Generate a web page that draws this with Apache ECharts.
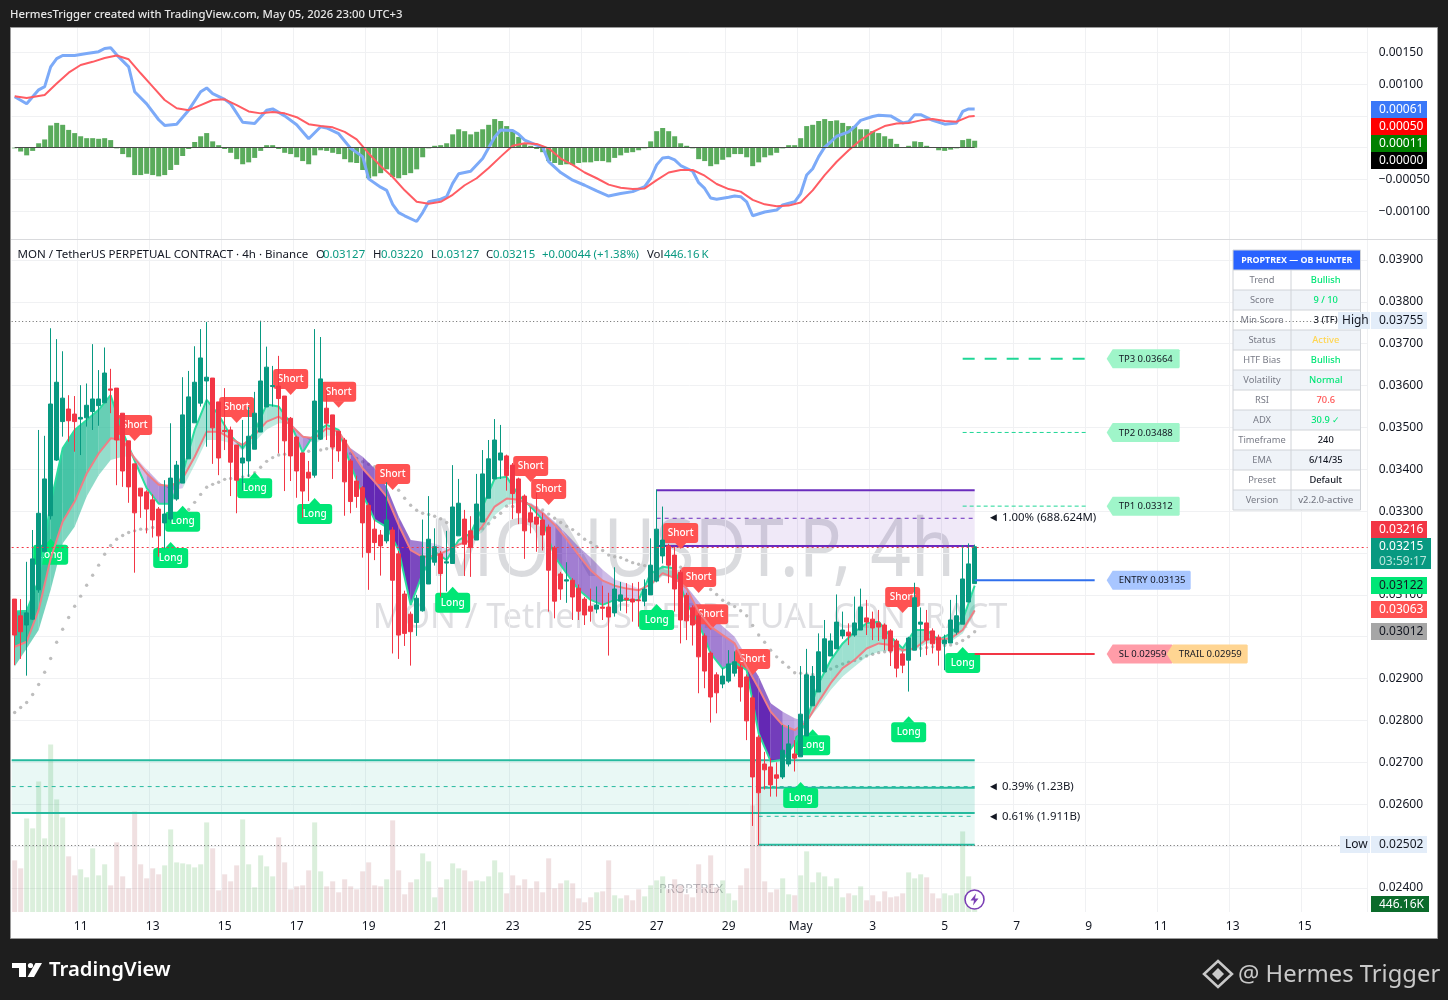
<!DOCTYPE html>
<html><head><meta charset="utf-8">
<style>html,body{margin:0;padding:0;background:#1e1e1e}#c{width:1448px;height:1000px}</style>
<script src="https://cdn.jsdelivr.net/npm/echarts@6/dist/echarts.min.js"></script>
</head><body><div id="c"></div>
<script>
// prices are in units of 0.00001 USDT
const open=[3090,3050,3028,3042,3112,3203,3289,3422,3514,3544,3532,3520,3523,3538,3552,3559,3592,3594,3534,3468,3413,3355,3346,3327,3305,3272,3281,3329,3367,3425,3511,3558,3611,3618,3561,3493,3494,3458,3415,3420,3448,3489,3549,3598,3599,3575,3522,3477,3439,3393,3386,3472,3546,3530,3491,3470,3420,3372,3356,3314,3257,3243,3229,3255,3198,3102,3054,3034,3062,3126,3178,3198,3176,3175,3241,3281,3253,3231,3274,3331,3377,3422,3432,3410,3377,3336,3296,3286,3279,3262,3212,3150,3133,3135,3116,3090,3073,3066,3071,3071,3057,3085,3092,3090,3088,3085,3100,3133,3193,3217,3195,3154,3099,3069,3050,3002,2961,2909,2887,2894,2913,2927,2904,2854,2760,2696,2689,2670,2665,2696,2720,2713,2763,2835,2868,2916,2954,2971,3002,3011,3004,3016,3045,3042,3033,3028,3014,2990,2959,2944,2968,3030,3033,3014,2999,2983,2985,3011,3030,3083,3127];
const close=[3004,3012,3057,3186,3295,3377,3556,3608,3570,3516,3514,3524,3553,3568,3568,3630,3589,3470,3396,3358,3296,3336,3305,3279,3241,3293,3379,3410,3530,3573,3608,3666,3620,3499,3427,3490,3417,3374,3427,3479,3534,3611,3644,3600,3569,3468,3432,3396,3348,3379,3563,3616,3510,3453,3444,3370,3323,3335,3272,3201,3225,3217,3279,3135,3004,3008,3012,3092,3193,3233,3215,3151,3179,3310,3319,3221,3213,3317,3389,3425,3470,3439,3385,3342,3296,3253,3274,3269,3243,3159,3085,3114,3136,3095,3061,3052,3061,3076,3068,3047,3114,3100,3088,3083,3086,3114,3171,3257,3231,3171,3114,3040,3038,3028,2952,2918,2856,2866,2906,2935,2940,2880,2799,2665,2627,2682,2646,2662,2729,2744,2710,2815,2909,2906,2964,2995,2990,3035,3016,3002,3033,3071,3035,3021,3023,2995,2966,2925,2932,2997,3093,3035,2992,2983,2968,2992,3040,3050,3138,3174,3215];
const low=[2932,2947,2907,3040,3105,3203,3280,3420,3478,3466,3442,3434,3502,3494,3504,3559,3534,3362,3358,3320,3153,3284,3247,3237,3191,3211,3275,3325,3367,3425,3511,3550,3454,3413,3386,3446,3336,3295,3350,3382,3448,3489,3549,3550,3438,3348,3372,3332,3284,3324,3380,3470,3470,3377,3418,3289,3295,3308,3189,3112,3183,3146,3223,2960,2947,2978,2931,3002,3060,3126,3170,3096,3108,3175,3241,3145,3143,3231,3274,3331,3377,3377,3349,3281,3269,3186,3247,3203,3206,3060,3044,3088,3081,3040,3040,3028,3036,3056,3040,2955,3048,3062,3056,3036,3024,3073,3100,3130,3175,3128,3060,2984,2992,2979,2865,2877,2795,2817,2877,2890,2905,2845,2753,2548,2502,2635,2618,2618,2660,2690,2678,2713,2763,2835,2868,2916,2954,2971,2995,2980,3000,3016,3004,2992,2990,2968,2930,2903,2913,2869,2968,2952,2956,2960,2931,2920,2985,3005,3030,3083,3127];
const high=[3090,3090,3179,3255,3494,3480,3737,3711,3682,3577,3575,3601,3605,3699,3637,3691,3640,3594,3534,3468,3413,3355,3350,3340,3310,3374,3510,3420,3620,3635,3694,3735,3752,3618,3561,3594,3502,3458,3518,3549,3585,3755,3693,3647,3671,3575,3525,3480,3440,3420,3735,3716,3590,3530,3491,3475,3425,3385,3360,3320,3280,3255,3369,3262,3205,3110,3060,3100,3280,3336,3259,3205,3253,3410,3377,3303,3288,3389,3446,3470,3520,3506,3435,3415,3380,3340,3310,3344,3295,3268,3217,3155,3178,3140,3125,3095,3115,3120,3122,3105,3166,3131,3128,3128,3131,3137,3235,3352,3311,3222,3215,3160,3105,3075,3055,3008,2965,2915,2925,2968,2965,2935,2910,2860,2765,2725,2710,2700,2789,2789,2753,2930,2971,2930,3008,3040,3008,3101,3060,3032,3096,3115,3088,3060,3064,3032,3018,2995,2965,3000,3129,3070,3064,3020,3005,3005,3088,3100,3219,3223,3220];
const volumeK=[2880,2435,5220,4667,7286,4109,9347,6282,5279,3105,2043,2381,1935,3551,2043,2660,1485,3884,1989,1319,5612,2660,1877,2435,2102,2601,4608,2768,2714,2660,2489,2660,5000,3551,1206,2102,1710,2601,5166,2660,1377,3159,2547,1989,4163,2768,1265,1431,1485,2322,5000,2268,1431,1710,1098,1823,1431,1265,2268,2768,1485,1431,1823,5112,2322,986,1656,1823,3272,2826,819,1377,1823,2714,2435,2322,1710,1764,1710,1989,2880,2210,1040,2043,1485,1823,1319,1710,1098,2993,1319,1598,1764,1598,761,540,819,1098,1152,2880,932,761,932,653,1265,873,1485,1764,1989,1265,1823,1485,986,819,2660,1377,3159,1377,1764,1040,653,1485,2435,5949,6597,1710,1098,1265,1877,986,932,2043,3384,1656,2210,1989,1431,1877,819,1040,932,1431,653,932,594,1152,819,873,1040,2210,1877,2102,1935,1040,761,1040,932,1040,4496,1989,446];
const emaDots=[2819,2831,2843,2862,2886,2915,2948,2987,3018,3046,3073,3097,3123,3147,3171,3197,3218,3233,3242,3249,3253,3257,3257,3261,3267,3275,3281,3288,3296,3304,3321,3340,3357,3364,3369,3376,3378,3380,3382,3385,3392,3405,3419,3428,3434,3436,3438,3440,3441,3443,3444,3446,3449,3450,3450,3446,3438,3426,3418,3412,3406,3396,3380,3362,3350,3331,3314,3302,3295,3292,3288,3282,3273,3264,3258,3252,3250,3252,3258,3270,3285,3295,3312,3311,3310,3310,3310,3308,3303,3293,3283,3273,3264,3256,3245,3233,3225,3215,3206,3195,3191,3189,3183,3177,3173,3170,3168,3167,3166,3168,3167,3166,3158,3147,3135,3124,3113,3101,3087,3080,3072,3062,3050,3027,3004,2987,2968,2952,2939,2927,2914,2913,2911,2910,2912,2917,2923,2929,2935,2939,2943,2948,2954,2958,2962,2964,2964,2967,2968,2970,2971,2972,2974,2976,2978,2979,2980,2984,2991,3000,3012];
// ribbon readings at every second bar
const emaFast=[3060,3062,3135,3320,3450,3494,3518,3542,3577,3490,3420,3355,3318,3318,3390,3494,3566,3530,3480,3450,3490,3555,3550,3510,3440,3486,3506,3494,3410,3340,3279,3262,3207,3076,3151,3203,3183,3231,3247,3311,3378,3382,3338,3311,3279,3191,3151,3112,3088,3076,3088,3088,3088,3151,3167,3163,3080,3032,2960,2924,2940,2920,2769,2702,2706,2745,2801,2889,2944,2984,3012,3032,3036,3000,2972,3016,3016,2992,3008,3040,3122];
const emaSlow=[2976,2988,3064,3187,3275,3323,3390,3438,3474,3470,3426,3390,3363,3360,3378,3430,3490,3490,3474,3458,3482,3514,3526,3506,3478,3474,3498,3490,3445,3402,3370,3335,3267,3207,3191,3193,3205,3220,3230,3265,3311,3330,3327,3315,3295,3267,3233,3195,3159,3134,3122,3115,3111,3125,3152,3140,3115,3060,3024,3004,2984,2928,2877,2821,2789,2777,2797,2845,2889,2925,2945,2972,2984,2980,2968,2972,2994,2994,2996,3016,3063];
const emaEdge=[2929,2972,3016,3112,3223,3263,3335,3386,3422,3430,3431,3400,3370,3350,3355,3410,3470,3470,3462,3445,3465,3495,3510,3510,3482,3460,3480,3480,3450,3430,3402,3358,3287,3231,3227,3223,3210,3222,3232,3250,3290,3315,3320,3320,3300,3275,3245,3215,3189,3160,3137,3127,3115,3120,3145,3145,3120,3084,3050,3025,3000,2952,2905,2841,2821,2805,2797,2833,2873,2905,2929,2952,2964,2968,2964,2968,2984,2984,2988,3008,3056];
const ribbonAlpha=[.9,.9,.9,.9,.85,.8,.75,.7,.55,.3,.3,.5,.55,.35,.4,.42,.42,.3,.3,.3,.4,.42,.4,.4,.5,.35,.3,.5,.7,1,1,1,1,.85,.3,.25,.25,.3,.35,.4,.4,.4,.35,.45,.5,.6,.6,.6,.55,.45,.3,.25,.25,.35,.35,.4,.55,.6,.6,.55,.5,.95,1,.9,.6,.5,.45,.45,.45,.45,.45,.45,.45,.45,.45,.45,.45,.45,.45,.45,.45];
const emaBars=emaFast.map((_,k)=>k*2);

// MACD panel, units of 0.00001
const macdHist=[-1,-6,-12,-5,7,13,35,39,36,28,23,18,15,15,14,15,12,-1,-10,-15,-43,-43,-41,-43,-45,-43,-35,-27,-13,-2,9,18,23,10,4,-2,-8,-18,-26,-23,-16,-5,4,4,-2,-8,-10,-15,-21,-26,-12,-4,-5,-8,-10,-18,-23,-24,-35,-48,-45,-40,-34,-46,-48,-43,-40,-34,-15,-1,3,4,7,21,29,26,21,25,29,36,45,42,34,26,17,7,3,-2,-7,-21,-24,-27,-26,-27,-24,-23,-23,-21,-21,-23,-16,-12,-8,-7,-4,-1,10,26,31,26,18,7,3,-1,-18,-21,-29,-26,-19,-15,-10,-10,-15,-29,-23,-15,-12,-8,-1,4,4,15,34,36,42,45,42,43,39,34,34,29,29,26,23,18,14,6,1,3,10,9,3,1,-4,-5,-3,-1,12,14,11];
const macdBars=[0,2,4,5,6,7,8,10,12,14,15,16,17,19,20,22,24,25,27,29,31,32,33,35,36,38,40,42,43,45,47,49,51,52,54,56,58,59,61,62,63,64,65,67,68,69,71,72,73,74,76,78,80,81,83,84,85,87,88,89,91,93,95,97,99,101,103,105,106,107,108,109,110,111,113,114,115,116,117,119,120,121,122,123,125,127,128,130,131,132,133,134,135,136,137,139,140,141,143,144,146,148,149,150,151,153,155,157,158,159,160];
const macdLine=[80,69,91,96,127,140,145,145,148,151,156,157,146,127,88,69,44,35,37,59,88,94,85,76,69,40,38,59,61,50,36,14,33,31,22,-1,-14,-49,-62,-67,-89,-102,-107,-116,-102,-85,-81,-77,-56,-41,-37,-17,17,28,27,21,12,4,1,-22,-39,-51,-59,-68,-76,-72,-69,-61,-48,-27,-16,-15,-19,-28,-37,-55,-64,-79,-81,-78,-76,-77,-85,-107,-101,-98,-90,-85,-72,-43,-33,-14,1,9,18,25,33,43,49,51,50,39,41,52,52,43,37,39,57,61,61];
const signalBars=[0,2,5,7,9,11,13,15,17,19,21,23,25,27,29,31,33,35,37,39,41,43,45,47,49,51,53,55,57,59,61,63,65,67,69,71,73,75,77,79,81,83,85,87,89,91,93,95,97,99,101,103,105,107,109,111,113,115,117,119,121,123,125,127,129,131,133,135,137,139,141,143,145,147,149,151,153,155,157,159,160];
const signalLine=[81,78,83,101,118,130,135,141,145,139,117,96,75,62,59,67,75,76,67,57,54,56,54,48,37,34,32,25,13,-9,-29,-46,-67,-85,-88,-85,-74,-59,-48,-32,-14,3,7,6,-1,-17,-27,-39,-48,-58,-63,-65,-64,-51,-39,-35,-35,-44,-57,-65,-69,-82,-89,-92,-91,-86,-67,-43,-22,-4,12,25,34,38,39,43,45,42,41,49,50];

// axes
const tickBars=[11,23,35,47,59,71,83,95,107,119,131,143,155,167,179,191,203,215];
const tickNames=['11','13','15','17','19','21','23','25','27','29','May','3','5','7','9','11','13','15'];
const priceTicks=[2400,2500,2600,2700,2800,2900,3000,3100,3200,3300,3400,3500,3600,3700,3800,3900];
const macdTicks=[150,100,50,0,-50,-100];

// signal tags
const shortBars=[20,37,46,54,63,86,89,111,114,116,123,148];
const shortPrices=[3506,3549,3616,3585,3389,3408,3353,3248,3143,3054,2947,3095];
const longBars=[6,28,26,40,50,73,107,133,131,149,158];
const longPrices=[3196,3275,3188,3355,3293,3081,3040,2741,2615,2772,2937];

// zones: from bar, to bar, top, bottom, mid
const zoneFrom=[-1,124,107], zoneTo=[160,160,160];
const zoneTop=[2705,2639,3350], zoneBottom=[2579,2503,3217], zoneMid=[2642,2571,3283];
const zoneColors=['#26ba9f','#26ba9f','#6a2cbd'];
const zoneFills=['rgba(38,186,159,0.10)','rgba(38,186,159,0.10)','rgba(106,44,189,0.10)'];

// trade levels
const levelNames=['TP3 0.03664','TP2 0.03488','TP1 0.03312','ENTRY 0.03135','SL 0.02959'];
const levelPrices=[3664,3488,3312,3135,2959];
const levelFrom=[158,158,158,160,160], levelTo=[179,179,179,180,180];
const levelColors=['#1fd796','#1fd796','#1fd796','#2f6fed','#f23645'];
const levelFills=['#9ff5c9','#9ff5c9','#9ff5c9','#a8c6ff','#ff9ca8'];
const levelWidths=[67,67,67,78,60];

const noteTexts=['\u25C4 1.00% (688.624M)','\u25C4 0.39% (1.23B)','\u25C4 0.61% (1.911B)'];
const notePrices=[3286,2642,2571];
const noteBars=[163,163,163];

const refPrices=[3755,3215,2502];
const refColors=['#666','#f23645','#666'];

const tableRows=[['Trend','Bullish','#00e676'],['Score','9 / 10','#00e676'],['Min Score','3 (TF)','#131722'],['Status','Active','#ffd54f'],['HTF Bias','Bullish','#00e676'],['Volatility','Normal','#00e676'],['RSI','70.6','#ff5252'],['ADX','30.9 \u2713','#00e676'],['Timeframe','240','#131722'],['EMA','6/14/35','#131722'],['Preset','Default','#131722'],['Version','v2.2.0-active','#787b86']];

const FONT='"Noto Sans",sans-serif';
const U=1e-5, p=v=>+(v*U).toFixed(5);
const N=226;
const cats=Array.from({length:N},(_,i)=>{const k=tickBars.indexOf(i);return k>=0?tickNames[k]:''+'\u200b'+i;});
const isTick=i=>tickBars.indexOf(i)>=0;
const GL='#f0f1f3';

function ribbon(params,api){
  const k=params.dataIndex;
  if(k>=emaBars.length-1)return;
  const P=(i,v)=>api.coord([i,p(v)]);
  const a=emaBars[k],b=emaBars[k+1];
  const up=emaFast[k]+emaFast[k+1]>=emaSlow[k]+emaSlow[k+1];
  const s=ribbonAlpha[k];
  const c=up?'38,186,150':'100,40,180';
  const poly=(v0,w0,v1,w1,al)=>({type:'polygon',shape:{points:[P(a,v0),P(b,w0),P(b,w1),P(a,v1)]},style:{fill:'rgba('+c+','+al+')'}});
  return {type:'group',children:[
    poly(emaFast[k],emaFast[k+1],emaSlow[k],emaSlow[k+1],s),
    poly(emaSlow[k],emaSlow[k+1],emaEdge[k],emaEdge[k+1],s*0.7)
  ]};
}
function zone(params,api){
  const k=params.dataIndex, cs=params.coordSys;
  const xA=zoneFrom[k]<0?cs.x:api.coord([zoneFrom[k],0])[0];
  const xB=api.coord([zoneTo[k],0])[0];
  const y=v=>api.coord([0,p(v)])[1];
  const c=zoneColors[k];
  return {type:'group',children:[
    {type:'rect',shape:{x:xA,y:y(zoneTop[k]),width:xB-xA,height:y(zoneBottom[k])-y(zoneTop[k])},style:{fill:zoneFills[k]}},
    {type:'line',shape:{x1:xA,x2:xB,y1:y(zoneTop[k]),y2:y(zoneTop[k])},style:{stroke:c,lineWidth:2}},
    {type:'line',shape:{x1:xA,x2:xB,y1:y(zoneBottom[k]),y2:y(zoneBottom[k])},style:{stroke:c,lineWidth:2}},
    {type:'line',shape:{x1:xA,x2:xB,y1:y(zoneMid[k]),y2:y(zoneMid[k])},style:{stroke:c,lineWidth:1,lineDash:[4,4]}}
  ]};
}
function tag(isLong){return function(params,api){
  const pt=api.coord([api.value(0),api.value(1)]);
  const W=35,H=20,x=pt[0],y=pt[1];
  const fill=isLong?'#00e676':'#ff5252';
  const tri=isLong?[[x-6,y-H/2+.5],[x+6,y-H/2+.5],[x,y-H/2-6]]:[[x-6,y+H/2-.5],[x+6,y+H/2-.5],[x,y+H/2+6]];
  return {type:'group',children:[
    {type:'rect',shape:{x:x-W/2,y:y-H/2,width:W,height:H,r:3},style:{fill}},
    {type:'polygon',shape:{points:tri},style:{fill}},
    {type:'text',style:{text:isLong?'Long':'Short',x,y,align:'center',verticalAlign:'middle',fill:'#fff',font:'500 10px '+FONT}}
  ]};
};}
function level(params,api){
  const k=params.dataIndex;
  const y=api.coord([0,p(levelPrices[k])])[1];
  const xA=api.coord([levelFrom[k],0])[0],xB=api.coord([levelTo[k],0])[0];
  const dash=k===0?[12,10]:(k<3?[4,3]:null);
  const lw=(k===1||k===2)?1:2;
  const tip=api.coord([182,0])[0];
  const w=levelWidths[k];
  const children=[
    {type:'line',shape:{x1:xA,x2:xB,y1:y,y2:y},style:{stroke:levelColors[k],lineWidth:lw,lineDash:dash}},
    {type:'polygon',shape:{points:[[tip,y],[tip+6,y-9.5],[tip+6+w-1,y-9.5],[tip+6+w,y-8.5],[tip+6+w,y+8.5],[tip+6+w-1,y+9.5],[tip+6,y+9.5]]},style:{fill:levelFills[k]}},
    {type:'text',style:{text:levelNames[k],x:tip+12,y:y+.5,align:'left',verticalAlign:'middle',fill:'#131722',font:'9.5px '+FONT}}
  ];
  if(k===4){
    const t2=tip+60;
    children.push({type:'polygon',shape:{points:[[t2,y],[t2+6,y-9.5],[t2+6+74,y-9.5],[t2+6+75,y-8.5],[t2+6+75,y+8.5],[t2+6+74,y+9.5],[t2+6,y+9.5]]},style:{fill:'#ffd592'}});
    children.push({type:'text',style:{text:'TRAIL 0.02959',x:t2+12,y:y+.5,align:'left',verticalAlign:'middle',fill:'#131722',font:'9.5px '+FONT}});
  }
  return {type:'group',children};
}

// graphic helpers
const G=[];
const T=(x,y,text,fill,size,align,weight,z)=>G.push({type:'text',z:z||50,silent:true,x,y,style:{text,fill,font:(weight||'normal')+' '+size+'px '+FONT,align:align||'left',verticalAlign:'middle'}});
const R=(x,y,w,h,fill,z,stroke)=>G.push({type:'rect',z:z||49,silent:true,shape:{x,y,width:w,height:h},style:{fill,stroke:stroke||null,lineWidth:stroke?1:0}});
// frame
R(10.5,27.5,1427,911,'#ffffff',-10,'#9a9a9a');
G.push({type:'line',z:-5,silent:true,shape:{x1:11,x2:1437,y1:239.5,y2:239.5},style:{stroke:'#d9dadd',lineWidth:1}});
T(10,14.5,'HermesTrigger created with TradingView.com, May 05, 2026 23:00 UTC+3','#e8e8e8',11.3,'left','500');
// watermark
G.push({type:'text',z:-2,silent:true,x:692,y:553,originX:0,originY:0,scaleX:0.89,style:{text:'MONUSDT.P, 4h',fill:'rgba(120,123,134,0.27)',font:'80px '+FONT,align:'center',verticalAlign:'middle'}});
T(690,618,'MON / TetherUS PERPETUAL CONTRACT','rgba(120,123,134,0.24)',34,'center','normal',-2);
T(691,889,'PROPTREX','rgba(120,123,134,0.5)',13,'center','normal',-2);
// legend
const K='#131722',V='#089981';
T(17.5,255,'MON / TetherUS PERPETUAL CONTRACT \u00b7 4h \u00b7 Binance',K,11.55);
[[316,'O',K],[323,'0.03127',V],[373,'H',K],[381,'0.03220',V],[431,'L',K],[437,'0.03127',V],[486,'C',K],[493,'0.03215',V],[542,'+0.00044 (+1.38%)',V],[647,'Vol',K],[664,'446.16\u202fK',V]].forEach(a=>T(a[0],255,a[1],a[2],11.4));
// table
const TX=1233,TW=127.5,TC=1291;
R(TX,250,TW,20,'#2962ff',6);
T(TX+TW/2,260,'PROPTREX \u2014 OB HUNTER','#fff',8.9,'center','bold',7);
tableRows.forEach((r,k)=>{
  const y=270+k*20;
  R(TX,y,TW,20,k%2?'#eff3f8':'#ffffff',1);
  T((TX+TC)/2,y+10,r[0],'#787b86',9.3,'center','normal',7);
  T((TC+TX+TW)/2,y+10,r[1],r[2],9.3,'center','500',7);
});
G.push({type:'rect',z:6,silent:true,shape:{x:TX,y:250,width:TW,height:260},style:{fill:'none',stroke:'#d0d3d8',lineWidth:1}});
for(let k=1;k<13;k++)G.push({type:'line',z:6,silent:true,shape:{x1:TX,x2:TX+TW,y1:250+k*20,y2:250+k*20},style:{stroke:'#d0d3d8',lineWidth:1}});
G.push({type:'line',z:6,silent:true,shape:{x1:TC,x2:TC,y1:270,y2:510},style:{stroke:'#d0d3d8',lineWidth:1}});
// price tags
const tagBox=(y0,h,w,fill,lines,col)=>{R(1371,y0,w,h,fill,60);lines.forEach((t,k)=>T(1379,y0+9+k*15,t[0],t[1]||col,12,'left','normal',61));};
tagBox(101,17,56,'#3a78f8',[['0.00061']],'#fff');
tagBox(118,17,56,'#ff0000',[['0.00050']],'#fff');
tagBox(135,17,56,'#008000',[['0.00011']],'#fff');
tagBox(152,17,56,'#000000',[['0.00000']],'#fff');
tagBox(312,17,56,'#e3edf9',[['0.03755']],'#131722');
R(1338,312,32,17,'#e3edf9',60);T(1342,321,'High','#131722',12,'left','normal',61);
tagBox(521,17,56,'#f23645',[['0.03216']],'#fff');
tagBox(538,31,60,'#089981',[['0.03215'],['03:59:17','#b8e6dc']],'#fff');
tagBox(577,17,56,'#00e676',[['0.03122']],'#131722');
tagBox(601,17,56,'#ff5252',[['0.03063']],'#fff');
tagBox(623,17,56,'#a6a6a6',[['0.03012']],'#131722');
tagBox(836,17,56,'#e3edf9',[['0.02502']],'#131722');
R(1340,836,30,17,'#e3edf9',60);T(1345,845,'Low','#131722',12,'left','normal',61);
tagBox(896,16,58,'#0b6b2b',[['446.16K']],'#fff');
// lightning badge
G.push({type:'circle',z:40,silent:true,shape:{cx:974.5,cy:899.5,r:9.5},style:{fill:'#fff',stroke:'#7b3fb5',lineWidth:1.6}});
G.push({type:'polygon',z:41,silent:true,shape:{points:[[976,893.5],[970.5,900.5],[974,900.5],[973,905.5],[978.5,898.5],[975,898.5]]},style:{fill:'#7b3fb5'}});
// footer
G.push({type:'rect',z:5,silent:true,shape:{x:12,y:963,width:14,height:5},style:{fill:'#fff'}});
G.push({type:'rect',z:5,silent:true,shape:{x:19,y:963,width:7,height:14},style:{fill:'#fff'}});
G.push({type:'circle',z:5,silent:true,shape:{cx:30.5,cy:965.5,r:2.6},style:{fill:'#fff'}});
G.push({type:'polygon',z:5,silent:true,shape:{points:[[35.5,963],[42,963],[34,977],[27.5,977]]},style:{fill:'#fff'}});
T(49,970.5,'TradingView','#ffffff',20.3,'left','600',5);
G.push({type:'polygon',z:5,silent:true,shape:{points:[[1218,961],[1232,974],[1218,987],[1204,974]]},style:{fill:'none',stroke:'#c9c9c9',lineWidth:2.5}});
G.push({type:'polygon',z:5,silent:true,shape:{points:[[1218,968],[1224,974],[1218,980],[1212,974]]},style:{fill:'#c9c9c9'}});
T(1238,975.5,'@ Hermes Trigger','#c9c9c9',23.8,'left','normal',5);

const splitLine={show:true,lineStyle:{color:GL,width:1},interval:i=>isTick(i)};
const option={
  animation:false,
  backgroundColor:'#1e1e1e',
  textStyle:{fontFamily:FONT},
  tooltip:{show:false},
  axisPointer:{show:false},
  graphic:{elements:G},
  grid:[
    {left:11.67,width:1356,top:28,height:211,containLabel:false},
    {left:11.67,width:1356,top:240,height:672,containLabel:false}
  ],
  xAxis:[
    {type:'category',gridIndex:0,data:cats,boundaryGap:true,axisLine:{show:false},axisTick:{show:false},axisLabel:{show:false},splitLine},
    {type:'category',gridIndex:1,data:cats,boundaryGap:true,axisLine:{show:false},axisTick:{show:false},splitLine,
      axisLabel:{show:true,interval:i=>isTick(i),margin:8.5,color:'#131722',fontSize:12,fontFamily:FONT,formatter:v=>v,hideOverlap:false}}
  ],
  yAxis:[
    {type:'value',gridIndex:0,position:'right',min:-0.001435,max:0.001882,axisLine:{show:false},
      axisTick:{show:false,customValues:macdTicks.map(p)},
      axisLabel:{customValues:macdTicks.map(p),margin:11,padding:[2,0,0,0],color:'#131722',fontSize:12,fontFamily:FONT,formatter:v=>(v<0?'\u2212':'')+Math.abs(v).toFixed(5)},
      splitLine:{show:true,lineStyle:{color:GL}}},
    {type:'value',gridIndex:1,position:'right',min:0.023424,max:0.039478,axisLine:{show:false},
      axisTick:{show:false,customValues:priceTicks.map(p)},
      axisLabel:{customValues:priceTicks.map(p),margin:11,padding:[2,0,0,0],color:'#131722',fontSize:12,fontFamily:FONT,formatter:v=>v.toFixed(5)},
      splitLine:{show:true,lineStyle:{color:GL}}},
    {type:'value',gridIndex:1,position:'left',min:0,max:37498,show:false,splitLine:{show:false}}
  ],
  series:[
    {type:'bar',name:'Histogram',xAxisIndex:0,yAxisIndex:0,barWidth:5,z:2,data:macdHist.map(p),itemStyle:{color:'#5aab5c'},
      markLine:{silent:true,symbol:'none',label:{show:false},lineStyle:{color:'#4a4a4a',width:1,type:'solid'},data:[[{coord:[0,0]},{coord:[160,0]}]]}},
    {type:'line',name:'MACD',xAxisIndex:0,yAxisIndex:0,z:3,showSymbol:false,data:macdBars.map((b,k)=>[b,p(macdLine[k])]),lineStyle:{color:'#7caaf8',width:3}},
    {type:'line',name:'Signal',xAxisIndex:0,yAxisIndex:0,z:4,showSymbol:false,data:signalBars.map((b,k)=>[b,p(signalLine[k])]),lineStyle:{color:'#ff5c63',width:2}},
    {type:'bar',name:'Volume',xAxisIndex:1,yAxisIndex:2,barWidth:5,z:1,
      data:volumeK.map((v,i)=>({value:v,itemStyle:{color:close[i]>=open[i]?'rgba(76,175,80,0.2)':'rgba(155,48,55,0.15)'}}))},
    {type:'custom',name:'Zones',xAxisIndex:1,yAxisIndex:1,z:2,clip:false,renderItem:zone,data:zoneFrom.map((b,k)=>[zoneTo[k],p(zoneTop[k])]),encode:{x:0,y:1}},
    {type:'scatter',name:'EMA dots',xAxisIndex:1,yAxisIndex:1,z:2,symbolSize:3.4,itemStyle:{color:'#aeaeae'},data:emaDots.map((v,i)=>[i,p(v)])},
    {type:'custom',name:'Ribbon',xAxisIndex:1,yAxisIndex:1,z:3,renderItem:ribbon,data:emaBars.map((b,k)=>[b,p(emaSlow[k])]),encode:{x:0,y:1}},
    {type:'custom',name:'Short',xAxisIndex:1,yAxisIndex:1,z:4,renderItem:tag(false),data:shortBars.map((b,k)=>[b,p(shortPrices[k])]),encode:{x:0,y:1}},
    {type:'custom',name:'Long',xAxisIndex:1,yAxisIndex:1,z:4,renderItem:tag(true),data:longBars.map((b,k)=>[b,p(longPrices[k])]),encode:{x:0,y:1}},
    {type:'line',name:'EMA fast',xAxisIndex:1,yAxisIndex:1,z:5,showSymbol:false,data:emaBars.map((b,k)=>[b,p(emaFast[k])]),lineStyle:{color:'#2bdc9e',width:2}},
    {type:'line',name:'EMA slow',xAxisIndex:1,yAxisIndex:1,z:5,showSymbol:false,data:emaBars.map((b,k)=>[b,p(emaSlow[k])]),lineStyle:{color:'#ef7f86',width:2}},
    {type:'candlestick',name:'MONUSDT.P',xAxisIndex:1,yAxisIndex:1,z:6,barWidth:5,
      data:open.map((o,i)=>[p(o),p(close[i]),p(low[i]),p(high[i])]),
      itemStyle:{color:'#089981',color0:'#f23645',borderColor:'#089981',borderColor0:'#f23645',borderWidth:1}},
    {type:'custom',name:'Refs',xAxisIndex:1,yAxisIndex:1,z:7,renderItem:(params,api)=>{
        const k=params.dataIndex,cs=params.coordSys,y=Math.round(api.coord([0,p(refPrices[k])])[1])+.5;
        const red=refColors[k]==='#f23645';
        return {type:'line',shape:{x1:cs.x,x2:cs.x+cs.width,y1:y,y2:y},style:{stroke:refColors[k],lineWidth:1,lineDash:red?[2,3]:[1,2.5]}};
      },data:refPrices.map(v=>[0,p(v)]),encode:{x:0,y:1}},
    {type:'custom',name:'Levels',xAxisIndex:1,yAxisIndex:1,z:8,renderItem:level,data:levelPrices.map((v,k)=>[levelFrom[k],p(v)]),encode:{x:0,y:1}},
    {type:'custom',name:'Notes',xAxisIndex:1,yAxisIndex:1,z:8,renderItem:(params,api)=>{
        const k=params.dataIndex,pt=api.coord([noteBars[k],p(notePrices[k])]);
        return {type:'text',style:{text:noteTexts[k],x:pt[0]-5,y:pt[1]+.5,align:'left',verticalAlign:'middle',fill:'#131722',font:'11.4px '+FONT}};
      },data:noteBars.map((b,k)=>[b,p(notePrices[k])]),encode:{x:0,y:1}}
  ]
};
echarts.init(document.getElementById('c')).setOption(option);
</script></body></html>
